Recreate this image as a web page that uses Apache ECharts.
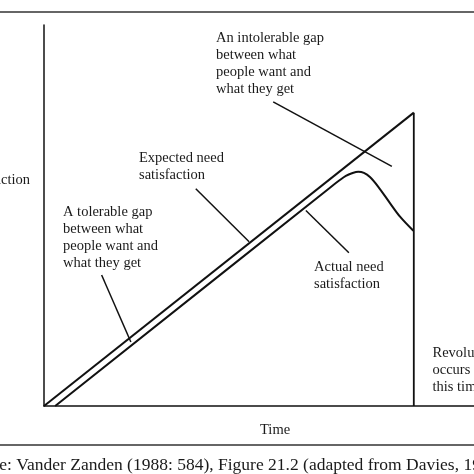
<!DOCTYPE html>
<html>
<head>
<meta charset="utf-8">
<script src="https://cdn.jsdelivr.net/npm/echarts@6/dist/echarts.min.js"></script>
<style>
html,body{margin:0;padding:0;background:#fff;}
#chart{width:474px;height:474px;}
</style>
</head>
<body>
<div id="chart"></div>
<script>
// Data (abstract units: time 0-100, need satisfaction 0-100)
var expectedNeed = [[0, 0], [86, 77]];
var revolutionLine = [[86, 77], [86, 0]];
var actualNeed = [[2.6, 0], [66.5, 57.3], [68.8, 59.3], [70.2, 60.4], [71.6, 61.1], [73.1, 61.5], [74.4, 61.2], [75.8, 60.1], [77.7, 57.6], [80.5, 53.2], [82.8, 49.7], [85.9, 46.0]];
var pointerExpected = [[35.3, 57.0], [47.7, 43.1]];
var pointerTolerable = [[13.4, 34.4], [20.2, 16.8]];
var pointerIntolerable = [[53.3, 79.8], [80.9, 62.9]];
var pointerActual = [[60.9, 51.3], [70.9, 40.2]];

var labelExpected = 'Expected need\nsatisfaction';
var labelTolerable = 'A tolerable gap\nbetween what\npeople want and\nwhat they get';
var labelIntolerable = 'An intolerable gap\nbetween what\npeople want and\nwhat they get';
var labelActual = 'Actual need\nsatisfaction';
var labelRevolution = 'Revolution\noccurs at\nthis time';
var xAxisName = 'Time';
var yAxisName = 'Need satisfaction';
var caption = 'Source: Vander Zanden (1988: 584), Figure 21.2 (adapted from Davies, 1962)';

var FONT = '"Liberation Serif", "DejaVu Serif", serif';
var TXT = '#1a1a1a';

function lineSeries(name, data, width, smooth) {
  return {
    name: name, type: 'line', data: data, symbol: 'none', silent: true,
    smooth: smooth || false,
    lineStyle: { color: '#111', width: width }, animation: false
  };
}
function txt(text, x, yCenterFirst, size, align) {
  return {
    type: 'text', x: x, y: yCenterFirst - 8.5, silent: true,
    style: {
      text: text, font: size + 'px ' + FONT, fill: TXT,
      lineHeight: 17, verticalAlign: 'top', align: align || 'left'
    }
  };
}

var chart = echarts.init(document.getElementById('chart'), null, { renderer: 'canvas' });
chart.setOption({
  backgroundColor: '#fff',
  animation: false,
  grid: { left: 44, top: 25, right: 0, bottom: 68 },
  xAxis: {
    type: 'value', min: 0, max: 100,
    axisLine: { show: true, lineStyle: { color: '#111', width: 1.5 } },
    axisTick: { show: false }, axisLabel: { show: false }, splitLine: { show: false }
  },
  yAxis: {
    type: 'value', min: 0, max: 100,
    axisLine: { show: true, lineStyle: { color: '#111', width: 1.5 } },
    axisTick: { show: false }, axisLabel: { show: false }, splitLine: { show: false }
  },
  series: [
    lineSeries('Expected need satisfaction', expectedNeed, 2),
    lineSeries('Revolution', revolutionLine, 1.8),
    lineSeries('Actual need satisfaction', actualNeed, 2, 0.35),
    lineSeries('p1', pointerExpected, 1.5),
    lineSeries('p2', pointerTolerable, 1.5),
    lineSeries('p3', pointerIntolerable, 1.5),
    lineSeries('p4', pointerActual, 1.5)
  ],
  graphic: [
    { type: 'line', silent: true, shape: { x1: 0, y1: 12, x2: 474, y2: 12 }, style: { stroke: '#333', lineWidth: 1.5 } },
    { type: 'line', silent: true, shape: { x1: 0, y1: 445, x2: 474, y2: 445 }, style: { stroke: '#333', lineWidth: 1.5 } },
    txt(labelIntolerable, 216, 38, 14.5),
    txt(labelExpected, 139, 158, 14.5),
    txt(labelTolerable, 63, 212, 14.5),
    txt(labelActual, 314, 267, 14.5),
    txt(labelRevolution, 432.5, 353, 14.5),
    txt(xAxisName, 260, 430, 14.5),
    txt(yAxisName, 30, 180, 14.5, 'right'),
    {
      type: 'text', x: -41.5, y: 465, silent: true,
      style: { text: caption, font: '17.5px ' + FONT, fill: TXT, verticalAlign: 'middle', align: 'left' }
    }
  ]
});
</script>
</body>
</html>
